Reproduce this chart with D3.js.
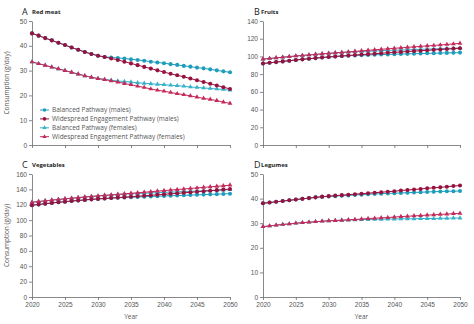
<!DOCTYPE html>
<html>
<head>
<meta charset="utf-8">
<script src="https://cdn.jsdelivr.net/npm/d3@7"></script>
<style>
  body { margin: 0; background: #fff; }
  svg { display: block; font-family: "Open Sans", "Noto Sans", sans-serif; }
  .axis path, .axis line { stroke: #6b6b6b; stroke-width: 0.8; }
  .axis text { fill: #555; font-size: 6.5px; }
</style>
</head>
<body>
<svg id="chart" width="474" height="324"></svg>
<script>
const years = d3.range(2020, 2051);

// Red meat (g/day)
const redMeatBalancedMales = [45.0, 44.1, 43.1, 42.2, 41.2, 40.3, 39.3, 38.4, 37.5, 36.7, 36.0, 35.5,
  35.3, 35.1, 34.9, 34.6, 34.3, 34.0, 33.6, 33.3, 33.0, 32.6, 32.3, 31.9, 31.6, 31.2, 30.9, 30.5, 30.1, 29.7, 29.3];
const redMeatWidespreadMales = [45.0, 44.1, 43.1, 42.2, 41.2, 40.3, 39.3, 38.4, 37.5, 36.7, 36.0, 35.5,
  34.9, 34.3, 33.6, 32.9, 32.2, 31.5, 30.8, 30.1, 29.4, 28.7, 28.1, 27.5, 26.8, 26.1, 25.4, 24.7, 24.0, 23.3, 22.6];
const redMeatBalancedFemales = [33.5, 32.8, 32.1, 31.4, 30.7, 30.0, 29.3, 28.6, 27.9, 27.3, 26.8, 26.4,
  26.1, 25.8, 25.6, 25.4, 25.1, 24.9, 24.7, 24.5, 24.3, 24.1, 23.9, 23.7, 23.4, 23.2, 23.0, 22.8, 22.6, 22.4, 22.1];
const redMeatWidespreadFemales = [33.5, 32.8, 32.1, 31.4, 30.7, 30.0, 29.3, 28.6, 27.9, 27.3, 26.8, 26.4,
  25.9, 25.4, 24.8, 24.3, 23.7, 23.2, 22.6, 22.1, 21.7, 21.2, 20.7, 20.3, 19.8, 19.3, 18.8, 18.4, 17.9, 17.3, 16.8];

// Fruits (g/day)
const fruitsBalancedMales = [92.0, 92.8, 93.6, 94.4, 95.2, 96.0, 96.7, 97.4, 98.1, 98.8, 99.4, 100.0, 100.5,
  100.8, 101.1, 101.4, 101.6, 101.9, 102.1, 102.3, 102.5, 102.7, 102.9, 103.1, 103.3, 103.5, 103.6, 103.8, 104.0, 104.1, 104.3];
const fruitsWidespreadMales = [92.0, 92.8, 93.6, 94.4, 95.2, 96.0, 96.7, 97.4, 98.1, 98.8, 99.4, 100.0, 100.5,
  101.0, 101.6, 102.1, 102.6, 103.1, 103.6, 104.1, 104.6, 105.1, 105.5, 106.0, 106.4, 106.9, 107.4, 107.8, 108.3, 108.8, 109.3];
const fruitsBalancedFemales = [97.0, 97.7, 98.4, 99.1, 99.8, 100.5, 101.1, 101.7, 102.3, 102.9, 103.5, 104.0, 104.5,
  104.9, 105.3, 105.6, 105.9, 106.2, 106.5, 106.8, 107.0, 107.3, 107.5, 107.8, 108.0, 108.3, 108.5, 108.8, 109.0, 109.2, 109.5];
const fruitsWidespreadFemales = [97.0, 97.7, 98.4, 99.1, 99.8, 100.5, 101.1, 101.7, 102.3, 102.9, 103.5, 104.0, 104.5,
  105.1, 105.7, 106.3, 106.9, 107.5, 108.1, 108.6, 109.2, 109.7, 110.3, 110.8, 111.4, 111.9, 112.4, 113.0, 113.5, 114.1, 114.8];

// Vegetables (g/day)
const vegBalancedMales = [119.4, 120.4, 121.4, 122.3, 123.2, 124.0, 124.8, 125.6, 126.3, 127.0, 127.6, 128.2, 128.7,
  129.1, 129.5, 129.8, 130.1, 130.5, 130.8, 131.1, 131.4, 131.7, 132.0, 132.3, 132.6, 132.9, 133.2, 133.5, 133.8, 134.1, 134.4];
const vegWidespreadMales = [119.4, 120.4, 121.4, 122.3, 123.2, 124.0, 124.8, 125.6, 126.3, 127.0, 127.6, 128.2, 128.7,
  129.3, 129.9, 130.5, 131.1, 131.7, 132.3, 132.9, 133.5, 134.2, 134.8, 135.5, 136.2, 136.9, 137.6, 138.3, 139.0, 139.7, 140.4];
const vegBalancedFemales = [123.2, 124.2, 125.1, 126.0, 126.9, 127.7, 128.5, 129.3, 130.1, 130.8, 131.5, 132.2, 132.8,
  133.3, 133.8, 134.2, 134.6, 135.0, 135.4, 135.7, 136.1, 136.4, 136.8, 137.1, 137.5, 137.8, 138.2, 138.5, 138.9, 139.2, 139.6];
const vegWidespreadFemales = [123.2, 124.2, 125.1, 126.0, 126.9, 127.7, 128.5, 129.3, 130.1, 130.8, 131.5, 132.2, 132.8,
  133.5, 134.2, 134.9, 135.6, 136.3, 137.0, 137.7, 138.4, 139.1, 139.8, 140.5, 141.2, 141.9, 142.6, 143.3, 144.0, 144.7, 145.5];

// Legumes (g/day)
const legBalancedMales = [38.1, 38.4, 38.7, 39.0, 39.3, 39.6, 39.9, 40.2, 40.5,
  40.7, 40.9, 41.0, 41.2, 41.3, 41.5, 41.6, 41.8, 41.9, 42.0, 42.1, 42.2, 42.3, 42.4, 42.5, 42.6, 42.7, 42.8, 42.9, 43.0, 43.0, 43.1];
const legWidespreadMales = [38.1, 38.4, 38.7, 39.0, 39.3, 39.6, 39.9, 40.2, 40.5,
  40.8, 41.0, 41.2, 41.4, 41.6, 41.8, 42.0, 42.2, 42.4, 42.6, 42.8, 43.0, 43.3, 43.5, 43.7, 43.9, 44.2, 44.4, 44.6, 44.8, 45.1, 45.3];
const legBalancedFemales = [28.6, 28.9, 29.2, 29.5, 29.7, 30.0, 30.2, 30.4, 30.6, 30.8, 31.0, 31.1, 31.2,
  31.3, 31.4, 31.5, 31.5, 31.6, 31.6, 31.7, 31.7, 31.8, 31.8, 31.8, 31.9, 31.9, 31.9, 32.0, 32.0, 32.1, 32.1];
const legWidespreadFemales = [28.6, 28.9, 29.2, 29.5, 29.7, 30.0, 30.2, 30.4, 30.6, 30.8, 31.0, 31.1, 31.2,
  31.4, 31.5, 31.7, 31.9, 32.0, 32.2, 32.3, 32.5, 32.7, 32.8, 33.0, 33.1, 33.3, 33.4, 33.6, 33.7, 33.9, 34.0];

const seriesNames = [
  "Balanced Pathway (males)",
  "Widespread Engagement Pathway (males)",
  "Balanced Pathway (females)",
  "Widespread Engagement Pathway (females)"
];
const seriesColors = ["#1e9ebd", "#98123f", "#35b2c9", "#c42a5a"];
const seriesShapes = [d3.symbolCircle, d3.symbolCircle, d3.symbolTriangle, d3.symbolTriangle];
const markerSizes = [13, 13, 10, 10];
// balanced lines go underneath so the shared stretch shows the red markers
const drawOrder = [0, 2, 3, 1];

const panels = [
  { letter: "A", title: "Red meat", left: 32, right: 230, top: 21, bottom: 145, max: 50, step: 10,
    letterX: 22, titleX: 32, titleY: 14.5, yLabel: true, xLabels: false, legend: true,
    data: [redMeatBalancedMales, redMeatWidespreadMales, redMeatBalancedFemales, redMeatWidespreadFemales] },
  { letter: "B", title: "Fruits", left: 263, right: 460, top: 21, bottom: 145, max: 140, step: 20,
    letterX: 254, titleX: 261, titleY: 14.5, yLabel: false, xLabels: false,
    data: [fruitsBalancedMales, fruitsWidespreadMales, fruitsBalancedFemales, fruitsWidespreadFemales] },
  { letter: "C", title: "Vegetables", left: 32, right: 230, top: 174, bottom: 297, max: 160, step: 20,
    letterX: 22, titleX: 32, titleY: 167.5, yLabel: true, xLabels: true,
    data: [vegBalancedMales, vegWidespreadMales, vegBalancedFemales, vegWidespreadFemales] },
  { letter: "D", title: "Legumes", left: 263, right: 460, top: 174, bottom: 297, max: 50, step: 10,
    letterX: 254, titleX: 261, titleY: 167.5, yLabel: false, xLabels: true,
    data: [legBalancedMales, legWidespreadMales, legBalancedFemales, legWidespreadFemales] }
];

const svg = d3.select("#chart");

panels.forEach(p => {
  const x = d3.scaleLinear().domain([2020, 2050]).range([p.left, p.right]);
  const y = d3.scaleLinear().domain([0, p.max]).range([p.bottom, p.top]);

  svg.append("g")
    .attr("class", "axis")
    .attr("transform", `translate(0,${p.bottom})`)
    .call(d3.axisBottom(x).tickValues(d3.range(2020, 2051, 5)).tickFormat(p.xLabels ? d3.format("d") : "")
      .tickSize(3).tickSizeOuter(0).tickPadding(2.5));

  svg.append("g")
    .attr("class", "axis")
    .attr("transform", `translate(${p.left},0)`)
    .call(d3.axisLeft(y).tickValues(d3.range(0, p.max + 1, p.step)).tickSize(3).tickSizeOuter(0).tickPadding(2));

  svg.append("text")
    .attr("x", p.letterX).attr("y", p.titleY)
    .attr("font-size", 9).attr("fill", "#222")
    .text(p.letter);
  svg.append("text")
    .attr("x", p.titleX).attr("y", p.titleY - 0.5)
    .attr("font-size", 6).attr("font-weight", "bold").attr("fill", "#222")
    .text(p.title);

  if (p.yLabel) {
    svg.append("text")
      .attr("transform", `translate(9,${(p.top + p.bottom) / 2}) rotate(-90)`)
      .attr("text-anchor", "middle")
      .attr("font-size", 6.5).attr("fill", "#555")
      .text("Consumption (g/day)");
  }
  if (p.xLabels) {
    svg.append("text")
      .attr("x", (p.left + p.right) / 2).attr("y", 319)
      .attr("text-anchor", "middle")
      .attr("font-size", 6.5).attr("fill", "#555")
      .text("Year");
  }

  const line = d3.line().x((d, i) => x(years[i])).y(d => y(d));

  drawOrder.forEach(s => {
    const g = svg.append("g");
    g.append("path")
      .datum(p.data[s])
      .attr("fill", "none")
      .attr("stroke", seriesColors[s])
      .attr("stroke-width", 1)
      .attr("d", line);
    g.selectAll("path.m")
      .data(p.data[s])
      .join("path")
      .attr("class", "m")
      .attr("transform", (d, i) => `translate(${x(years[i])},${y(d)})`)
      .attr("fill", seriesColors[s])
      .attr("d", d3.symbol().type(seriesShapes[s]).size(markerSizes[s]));
  });

  if (p.legend) {
    const lg = svg.append("g").attr("transform", "translate(40,110)");
    seriesNames.forEach((name, i) => {
      const row = lg.append("g").attr("transform", `translate(0,${i * 8.9})`);
      row.append("line")
        .attr("x1", 0).attr("x2", 9).attr("y1", 0).attr("y2", 0)
        .attr("stroke", seriesColors[i]).attr("stroke-width", 1);
      row.append("path")
        .attr("transform", "translate(4.5,0)")
        .attr("fill", seriesColors[i])
        .attr("d", d3.symbol().type(seriesShapes[i]).size(markerSizes[i] * 0.8));
      row.append("text")
        .attr("x", 12).attr("y", 2.2)
        .attr("font-size", 6.5).attr("fill", "#555")
        .text(name);
    });
  }
});
</script>
</body>
</html>
